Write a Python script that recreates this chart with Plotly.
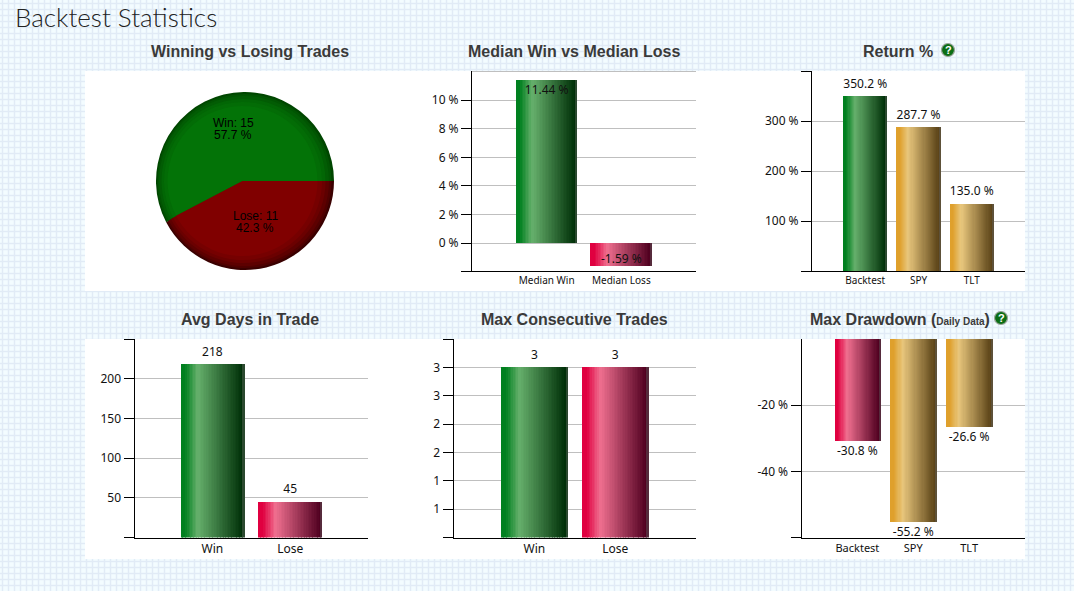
import plotly.graph_objects as go

# chart data
pie_labels = ["Win", "Lose"]
pie_values = [15, 11]
pie_pct = ["57.7 %", "42.3 %"]

median_cats = ["Median Win", "Median Loss"]
median_vals = [11.44, -1.59]
median_text = ["11.44 %", "-1.59 %"]
median_ticks = [-1.96, 0, 2, 4, 6, 8, 10]
median_ticktext = ["", "0 %", "2 %", "4 %", "6 %", "8 %", "10 %"]

return_cats = ["Backtest", "SPY", "TLT"]
return_vals = [350.2, 287.7, 135.0]
return_text = ["350.2 %", "287.7 %", "135.0 %"]
return_ticks = [0, 100, 200, 300, 400]
return_ticktext = ["", "100 %", "200 %", "300 %", ""]

days_cats = ["Win", "Lose"]
days_vals = [218, 45]
days_text = ["218", "45"]
days_ticks = [0, 50, 100, 150, 200, 250]
days_ticktext = ["", "50", "100", "150", "200", ""]

consec_cats = ["Win", "Lose"]
consec_vals = [3, 3]
consec_text = ["3", "3"]
consec_ticks = [0, 0.5, 1, 1.5, 2, 2.5, 3, 3.5]
consec_ticktext = ["", "1", "1", "2", "2", "3", "3", ""]

dd_cats = ["Backtest", "SPY", "TLT"]
dd_vals = [-30.8, -55.2, -26.6]
dd_text = ["-30.8 %", "-55.2 %", "-26.6 %"]
dd_ticks = [-60, -40, -20]
dd_ticktext = ["", "-40 %", "-20 %"]

W, H = 1074, 591
TICK_FONT = "Noto Sans"
TITLE_FONT = "Liberation Sans"

GREEN = [(0, "#00801f"), (0.07, "#00801f"), (0.27, "#66b06c"), (0.97, "#003008"), (1, "#4a5a4a")]
RED = [(0, "#e00040"), (0.07, "#e00040"), (0.27, "#f07090"), (0.97, "#500020"), (1, "#5a4a50")]
GOLD = [(0, "#dfa02c"), (0.07, "#dfa02c"), (0.27, "#e8c67c"), (0.97, "#5c4418"), (1, "#5e5a50")]


def px(x):
    return x / W


def py(y):
    return 1 - y / H


def mix(c1, c2, t):
    a = [int(c1[i:i + 2], 16) for i in (1, 3, 5)]
    b = [int(c2[i:i + 2], 16) for i in (1, 3, 5)]
    return "#%02x%02x%02x" % tuple(round(a[i] + (b[i] - a[i]) * t) for i in range(3))


def ramp(stops, t):
    for (t0, c0), (t1, c1) in zip(stops, stops[1:]):
        if t <= t1:
            return mix(c0, c1, (t - t0) / (t1 - t0))
    return stops[-1][1]


def note(x, y, text, font, xanchor="center"):
    return dict(xref="paper", yref="paper", x=px(x), y=py(y), showarrow=False, text=text, font=font,
                xanchor=xanchor, yanchor="middle", align="center")


fig = go.Figure()
shapes = []
annotations = []

# page background, fine blue grid
for x in range(2, W, 6):
    shapes.append(dict(type="line", xref="paper", yref="paper", x0=px(x + 0.5), x1=px(x + 0.5), y0=0, y1=1,
                       line=dict(color="#e1ebf6", width=1.4), layer="below"))
for y in range(3, H, 6):
    shapes.append(dict(type="line", xref="paper", yref="paper", x0=0, x1=1, y0=py(y + 0.5), y1=py(y + 0.5),
                       line=dict(color="#e1ebf6", width=1.4), layer="below"))

# white bands behind the two rows
for top, bottom in [(71, 291), (339, 559)]:
    shapes.append(dict(type="rect", xref="paper", yref="paper", x0=px(85), x1=px(1025), y0=py(bottom), y1=py(top),
                       fillcolor="white", line=dict(width=0), layer="below"))

# pie, stacked a few times to get the darker rim
pie_cx, pie_cy = 245, 181
pie_rotation = 90 + 360 * pie_values[1] / sum(pie_values)  # lose slice hangs below 3 o'clock
pie_layers = [(89, 0, 0.0), (87, 0.5, 0.3), (85, 1, 0.5), (82, 1.5, 0.7), (79, 2, 0.85), (75, 2.5, 1.0)]
for r, shift, t in pie_layers:
    fig.add_trace(go.Pie(
        labels=pie_labels, values=pie_values, sort=False, direction="clockwise", rotation=pie_rotation,
        domain=dict(x=[px(pie_cx - shift - r), px(pie_cx - shift + r)], y=[py(pie_cy + r), py(pie_cy - r)]),
        marker=dict(colors=[mix("#004600", "#037307", t), mix("#3a0000", "#800000", t)], line=dict(width=0)),
        textinfo="none", hoverinfo="label+value", showlegend=False,
    ))

pie_text_pos = [(233, 129), (255, 222)]
pie_font = dict(family=TITLE_FONT, size=12, color="#000000")
for label, val, pct, (x, y) in zip(pie_labels, pie_values, pie_pct, pie_text_pos):
    annotations.append(note(x, y - 6, f"{label}: {val}", pie_font))
    annotations.append(note(x, y + 6, pct, pie_font))

# axis number, cats, vals, text, colours, ticks, ticktext, left, right, top, bottom, yrange, label side, pad, x font
panels = [
    (2, median_cats, median_vals, median_text, [GREEN, RED], median_ticks, median_ticktext,
     472, 696, 71, 271, [-1.96, 12.05], ["bottom center", "top center"], [7, 0], 10),
    (3, return_cats, return_vals, return_text, [GREEN, GOLD, GOLD], return_ticks, return_ticktext,
     812, 1025, 71, 271, [0, 400], ["top center"] * 3, [7] * 3, 10),
    (4, days_cats, days_vals, days_text, [GREEN, RED], days_ticks, days_ticktext,
     134.5, 368, 339, 537.5, [0, 250], ["top center"] * 2, [7] * 2, 12),
    (5, consec_cats, consec_vals, consec_text, [GREEN, RED], consec_ticks, consec_ticktext,
     453.5, 696, 339, 537.5, [0, 3.5], ["top center"] * 2, [7] * 2, 12),
    (6, dd_cats, dd_vals, dd_text, [RED, GOLD, GOLD], dd_ticks, dd_ticktext,
     801.5, 1025, 339, 537.5, [-60, 0], ["bottom center"] * 3, [7] * 3, 11),
]

BAR_W = 0.815
SLICES = 40

for n, cats, vals, text, colours, ticks, ticktext, left, right, top, bottom, yrange, sides, pad, xsize in panels:
    xname, yname = f"x{n}", f"y{n}"
    xs = list(range(len(cats)))
    for pos, val, stops in zip(xs, vals, colours):
        # one bar cut in narrow strips for the horizontal gradient
        sw = BAR_W / SLICES
        fig.add_trace(go.Bar(
            x=[pos - BAR_W / 2 + (j + 0.5) * sw for j in range(SLICES)],
            y=[val] * SLICES,
            width=sw,
            marker=dict(color=[ramp(stops, (j + 0.5) / SLICES) for j in range(SLICES)], line=dict(width=0)),
            xaxis=xname, yaxis=yname, showlegend=False, hoverinfo="y",
        ))
    fig.add_trace(go.Scatter(
        x=xs, y=vals, text=text, mode="markers+text", textposition=sides,
        marker=dict(size=pad, opacity=0),
        textfont=dict(family=TICK_FONT, size=12, color="#111111"),
        cliponaxis=False, xaxis=xname, yaxis=yname, showlegend=False, hoverinfo="skip",
    ))
    fig.layout[f"xaxis{n}"] = dict(
        domain=[px(left), px(right)], range=[-1, len(cats)], anchor=yname,
        tickmode="array", tickvals=xs, ticktext=cats, ticks="", showgrid=False, zeroline=False,
        showline=True, linecolor="#000000", linewidth=1,
        tickfont=dict(family=TICK_FONT, size=xsize, color="#111111"),
    )
    fig.layout[f"yaxis{n}"] = dict(
        domain=[py(bottom), py(top)], range=yrange, anchor=xname,
        tickmode="array", tickvals=ticks, ticktext=ticktext,
        ticks="outside", ticklen=10, tickcolor="#000000", tickwidth=1,
        showgrid=True, gridcolor="#bfbfbf", gridwidth=1, zeroline=False,
        showline=True, linecolor="#000000", linewidth=1,
        tickfont=dict(family=TICK_FONT, size=12, color="#111111"),
    )

# grey top edge on the median panel
shapes.append(dict(type="line", xref="paper", yref="paper", x0=px(472), x1=px(696), y0=py(71.5), y1=py(71.5),
                   line=dict(color="#bfbfbf", width=1)))

title_font = dict(family=TITLE_FONT, size=16, color="#3a3a3a")
titles = [
    ("Winning vs Losing Trades", 250, 51),
    ("Median Win vs Median Loss", 574, 51),
    ("Return %", 898, 51),
    ("Avg Days in Trade", 250, 319),
    ("Max Consecutive Trades", 574, 319),
    ("Max Drawdown (<span style='font-size:10px'>Daily Data</span>)", 900, 319),
]
for t, x, y in titles:
    annotations.append(note(x, y, f"<b>{t}</b>", title_font))

annotations.append(note(13, 17, "Backtest Statistics", dict(family="Lato", size=26, color="#222222", weight=300),
                        xanchor="left"))

# help icons
for cx, cy in [(948, 50), (1001, 318)]:
    shapes.append(dict(type="circle", xref="paper", yref="paper", x0=px(cx - 6.5), x1=px(cx + 6.5),
                       y0=py(cy + 6.5), y1=py(cy - 6.5), fillcolor="#0b6e14", line=dict(color="#9aa59a", width=1.2)))
    annotations.append(note(cx, cy, "<b>?</b>", dict(family=TITLE_FONT, size=11, color="#ffffff")))

fig.update_layout(
    width=W, height=H, margin=dict(l=0, r=0, t=0, b=0), autosize=False,
    paper_bgcolor="#f3fcff", plot_bgcolor="rgba(0,0,0,0)", barmode="overlay", bargap=0,
    shapes=shapes, annotations=annotations, showlegend=False,
)

fig.write_html("out.html", config=dict(displayModeBar=False),
               post_script="document.body.style.margin='0';document.body.style.overflow='hidden';")
